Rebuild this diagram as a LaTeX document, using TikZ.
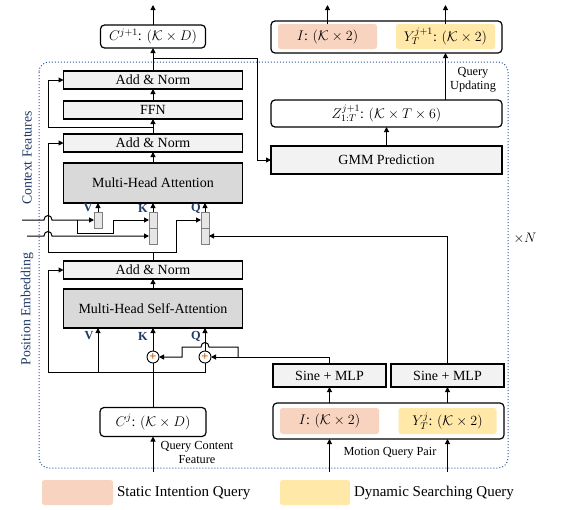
\RequirePackage{fix-cm}
\documentclass[tikz,border=0pt]{standalone}
\usepackage{fontspec}
\setmainfont{Liberation Serif}
\usetikzlibrary{arrows.meta}
\definecolor{lgray}{HTML}{F2F2F2}
\definecolor{mgray}{HTML}{D9D9D9}
\definecolor{peach}{HTML}{F8D4C0}
\definecolor{ylw}{HTML}{FFE8A8}
\definecolor{navy}{HTML}{2F5597}
\definecolor{navytext}{HTML}{1F3864}
\definecolor{barfill}{HTML}{E7E6E6}
\definecolor{plusc}{HTML}{C55A11}
\newcommand{\fbig}{\fontsize{14}{16}\selectfont}
\newcommand{\fleg}{\fontsize{15}{17}\selectfont}
\newcommand{\fmid}{\fontsize{13.8}{16}\selectfont}
\newcommand{\fsmall}{\fontsize{12.3}{14}\selectfont}
\begin{document}
\begin{tikzpicture}[x=1pt,y=-1pt,
  every node/.style={inner sep=0pt, outer sep=0pt},
  blk/.style={draw, line width=1.2pt, fill=lgray, font=\fbig, minimum height=18pt, minimum width=179pt},
  rbx/.style={draw, line width=1.2pt, fill=white, rounded corners=4pt, font=\fbig},
  tag/.style={rounded corners=2.5pt, font=\fbig},
  bar/.style={draw=gray, line width=0.8pt, fill=barfill, minimum width=8pt, minimum height=16pt},
  pl/.style={circle, draw, line width=0.9pt, fill=white, minimum size=12pt, font=\fsmall\bfseries, text=plusc},
  ln/.style={line width=1pt},
  ar/.style={line width=1pt, -{Triangle[length=5pt,width=5pt]}},
  lbl/.style={font=\fsmall\bfseries, text=navytext},
  side/.style={rotate=90, font=\fmid, text=navytext}]
\useasboundingbox (0,0) rectangle (561,509);
% dotted frame
\draw[navy, dotted, line width=1pt, rounded corners=10pt] (39,62) rectangle (508,468);
% left column
\node[rbx, minimum width=105pt, minimum height=23pt] (cout) at (153,36.5) {$C^{j+1}$: $(\mathcal{K}\times D)$};
\node[blk] (an1) at (153,80) {Add \& Norm};
\node[blk] (ffn) at (153,110) {FFN};
\node[blk] (an2) at (153,143) {Add \& Norm};
\node[blk, fill=mgray, minimum height=40pt] (mha) at (153,183) {Multi-Head Attention};
\node[blk] (an3) at (153,270) {Add \& Norm};
\node[blk, fill=mgray, minimum height=39pt] (mhsa) at (153,308.5) {Multi-Head Self-Attention};
% bars
\node[bar] (vb) at (98,220) {};
\node[bar] (kb1) at (153,220) {};
\node[bar] (kb2) at (153,236) {};
\node[bar] (qb1) at (205,220) {};
\node[bar] (qb2) at (205,236) {};
\node[lbl] (lv1) at (88,208) {V};
\node[lbl] (lk1) at (143,208) {K};
\node[lbl] (lq1) at (196,208) {Q};
\node[lbl] (lv2) at (89,336) {V};
\node[lbl] (lk2) at (143,336) {K};
\node[lbl] (lq2) at (196,336) {Q};
% plus
\node[pl] (kp) at (153,357) {+};
\node[pl] (qp) at (205,357) {+};
% bottom
\node[rbx, minimum width=106pt, minimum height=29pt] (cin) at (153,422) {$C^{j}$: $(\mathcal{K}\times D)$};
\node[blk, minimum width=113pt, minimum height=23pt] (s1) at (329.5,375.5) {Sine + MLP};
\node[blk, minimum width=113pt, minimum height=23pt] (s2) at (447.5,375.5) {Sine + MLP};
\node[rbx, minimum width=231pt, minimum height=36pt] (mqp) at (388.5,421) {};
\node[tag, fill=peach, minimum width=99pt, minimum height=26pt] (ii) at (329.5,421) {$I$: $(\mathcal{K}\times 2)$};
\node[tag, fill=ylw, minimum width=98pt, minimum height=26pt] (yi) at (447.5,421) {$Y_T^{j}$: $(\mathcal{K}\times 2)$};
% top right
\node[rbx, minimum width=231pt, minimum height=32pt] (ob) at (386.5,37) {};
\node[tag, fill=peach, minimum width=99pt, minimum height=25pt] (io) at (327.5,36.5) {$I$: $(\mathcal{K}\times 2)$};
\node[tag, fill=ylw, minimum width=99pt, minimum height=25pt] (yo) at (445.5,36.5) {$Y_T^{j+1}$: $(\mathcal{K}\times 2)$};
\node[rbx, minimum width=231pt, minimum height=27pt] (zb) at (386.5,113.5) {$Z_{1:T}^{j+1}$: $(\mathcal{K}\times T\times 6)$};
\node[blk, minimum width=231pt, minimum height=28pt] (gmm) at (386.5,160) {GMM Prediction};
% coordinates
\coordinate (topy) at (0,5);
\coordinate (boty) at (0,472);
\coordinate (j1) at (153,127);
\coordinate (j2) at (153,252);
\coordinate (j3) at (153,372);
\coordinate (j4) at (153,58);
% main stack
\draw[ar] (cout.north) -- (cout |- topy);
\draw[ar] (an1.north) -- (cout.south);
\draw[ar] (ffn.north) -- (an1.south);
\draw[ar] (an2.north) -- (ffn.south);
\draw[ar] (mha.north) -- (an2.south);
\draw[ar] (mhsa.north) -- (an3.south);
\draw[ar] (j1) -- (48,127) |- (an1.west);
\draw[ln] (an3.north) -- (j2);
\draw[ar] (j2) -- (48,252) |- (an2.west);
\draw[ar] (j2) -- (176,252) |- (qb1.west);
\draw[ar] (j3) -- (48,372) |- (an3.west);
\draw[ar] (98,372) -- (vb |- mhsa.south);
\draw[ln] (j3) -- (205,372) -- (qp.south);
\draw[ln] (cin.north) -- (kp.south);
\draw[ar] (kp.north) -- (kp |- mhsa.south);
\draw[ar] (qp.north) -- (qp |- mhsa.south);
\draw[ar] (vb.north) -- (vb |- mha.south);
\draw[ar] (kb1.north) -- (kb1 |- mha.south);
\draw[ar] (qb1.north) -- (qb1 |- mha.south);
% context / position
\draw[ar] (22,220) -- (44,220) .. controls (44,214) and (52,214) .. (52,220) -- (vb.west);
\draw[ar] (77,220) -- (77,233) -- (113,233) -- (113,220) -- (kb1.west);
\draw[ar] (27,236) -- (44,236) .. controls (44,230) and (52,230) .. (52,236) -- (kb2.west);
\draw[ar] (s2.north) |- (qb2.east);
\draw[ar] (s1.north) |- (qp.east);
\draw[ar] (238,357) -- (238,347) -- (209,347) .. controls (209,341) and (201,341) .. (201,347) -- (182,347) -- (182,357) -- (kp.east);
% right side
\draw[ar] (j4) -- (257,58) |- (gmm.west);
\draw[ar] (gmm.north) -- (zb.south);
\draw[ar] (yo |- zb.north) -- (yo |- ob.south);
\draw[ar] (io.north) -- (io |- topy);
\draw[ar] (yo.north) -- (yo |- topy);
\draw[ar] (cin |- boty) -- (cin.south);
\draw[ar] (ii |- boty) -- (ii |- mqp.south);
\draw[ar] (yi |- boty) -- (yi |- mqp.south);
\draw[ar] (ii |- mqp.north) -- (s1.south);
\draw[ar] (yi |- mqp.north) -- (s2.south);
% labels
\node[font=\fsmall, align=center] (qu) at (473,80) {Query\\Updating};
\node[font=\fsmall, align=center] (qcf) at (197,452) {Query Content\\Feature};
\node[font=\fsmall] (mqpl) at (390,453) {Motion Query Pair};
\node[font=\fmid] (xn) at (525,238) {$\times N$};
\node[side] (cf) at (27,158) {Context Features};
\node[side] (pe) at (27,309) {Position Embedding};
% legend
\node[fill=peach, rounded corners=2.5pt, minimum width=71pt, minimum height=25pt] (lg1) at (77.5,492.5) {};
\node[font=\fleg, anchor=west] (lt1) at (117,493) {Static Intention Query};
\node[fill=ylw, rounded corners=2.5pt, minimum width=70pt, minimum height=25pt] (lg2) at (315,492.5) {};
\node[font=\fleg, anchor=west] (lt2) at (354,493) {Dynamic Searching Query};
\end{tikzpicture}
\end{document}
